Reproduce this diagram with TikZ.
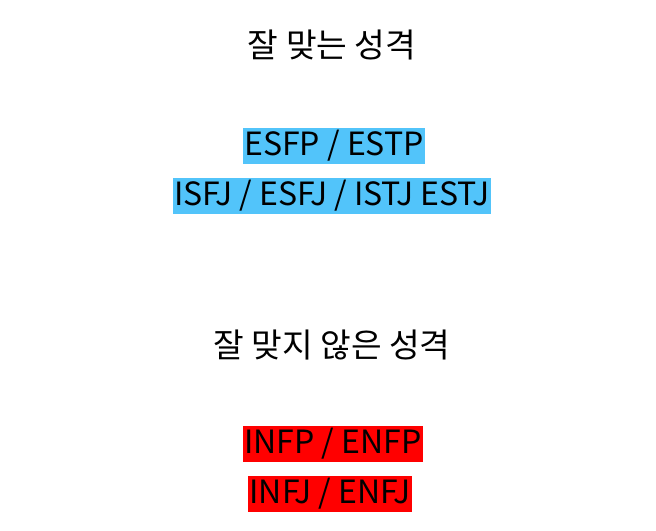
\documentclass[tikz,border=0pt]{standalone}
\usepackage{fontspec}
\setmainfont{Noto Sans CJK KR}
\definecolor{goodblue}{RGB}{82,196,250}
\definecolor{badred}{RGB}{255,0,0}
\tikzset{
  heading/.style={font=\fontsize{25}{30}\selectfont},
  typebox/.style={font=\fontsize{24}{30}\selectfont, inner xsep=1pt, inner ysep=0pt, minimum height=27pt},
}
\begin{document}
\begin{tikzpicture}[x=0.75pt,y=-0.75pt]
\useasboundingbox (0,0) rectangle (656,531);
\node[heading] (good) at (332,45) {잘 맞는 성격};
\node[typebox, fill=goodblue] (good1) at (334,146) {ESFP / ESTP};
\node[typebox, fill=goodblue] (good2) at (332,196) {ISFJ / ESFJ / ISTJ ESTJ};
\node[heading] (bad) at (332,345) {잘 맞지 않은 성격};
\node[typebox, fill=badred] (bad1) at (333,444) {INFP / ENFP};
\node[typebox, fill=badred] (bad2) at (330,494) {INFJ / ENFJ};
\end{tikzpicture}
\end{document}
